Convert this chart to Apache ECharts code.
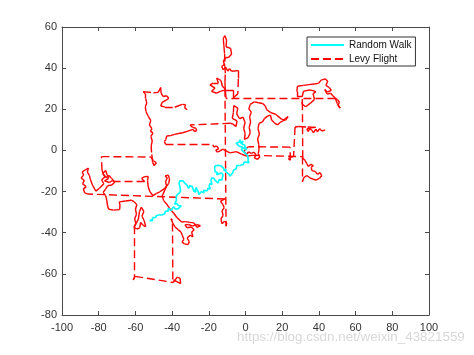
<!DOCTYPE html>
<html>
<head>
<meta charset="utf-8">
<script src="https://cdn.jsdelivr.net/npm/echarts@6/dist/echarts.min.js"></script>
<style>
  html, body { margin: 0; padding: 0; background: #fff; }
  #main { width: 474px; height: 355px; }
</style>
</head>
<body>
<div id="main"></div>
<script>
// axis ranges (ticks every 20)
const xRange = [-100, 100];
const yRange = [-80, 60];
const tickStep = 20;
const seriesNames = ['Random Walk', 'Levy Flight'];

// random walk
const walkPath = [
  [0, 0], [0.6, 1.2], [-0.4, 1.0], [-1.2, 0.8], [-0.2, 1.8], [-0.6, 2.8], [-1.4, 2.2], [-2.0, 3.0],
  [-1.0, 3.6], [-1.4, 4.6], [-2.2, 4.2], [-2.6, 3.4], [-3.2, 4.2], [-2.8, 5.2], [-3.8, 5.0], [-3.8, 3.8],
  [-4.8, 4.6], [-5.2, 3.6], [-4.2, 2.8], [-3.4, 2.0], [-2.6, 1.2], [-2.4, 2.6], [-1.6, 1.6], [-2.2, 0.4],
  [-1.2, -0.2], [-0.4, -1.2], [0.6, -0.8], [0.2, -2.0], [1.2, -2.6], [0.4, -3.4], [1.4, -3.6], [2.2, -4.4],
  [1.4, -5.0], [2.0, -6.0], [0.8, -5.8], [0.0, -6.6], [-0.6, -5.6], [-1.2, -6.8], [-2.0, -6.0], [-2.8, -7.2],
  [-3.6, -6.6], [-3.8, -8.0], [-4.8, -7.4], [-5.0, -8.8], [-6.0, -8.2], [-6.4, -9.6], [-7.2, -9.4], [-7.0, -10.8],
  [-8.0, -11.0], [-8.4, -12.4], [-9.2, -11.4], [-9.8, -12.2], [-10.2, -10.8], [-11.0, -10.2], [-10.6, -9.2], [-11.8, -9.6],
  [-12.0, -8.6], [-13.0, -8.8], [-13.2, -7.6], [-14.2, -8.2], [-14.8, -7.2], [-15.6, -8.0], [-16.6, -7.6], [-16.8, -8.8],
  [-16.0, -9.4], [-16.6, -10.4], [-15.4, -10.6], [-15.8, -11.8], [-14.6, -11.4], [-13.8, -12.2], [-13.0, -11.0], [-12.2, -12.0],
  [-12.6, -13.2], [-11.8, -14.0], [-12.8, -14.4], [-13.6, -15.2], [-14.4, -14.2], [-15.0, -15.8], [-16.0, -15.6], [-16.6, -14.6],
  [-17.2, -13.6], [-18.0, -14.2], [-18.6, -13.4], [-18.8, -14.8], [-17.8, -15.6], [-18.2, -16.6], [-19.4, -16.2], [-19.8, -17.2],
  [-18.8, -17.8], [-19.2, -18.8], [-20.4, -18.4], [-20.8, -19.6], [-21.6, -20.4], [-21.8, -19.0], [-22.8, -19.4], [-22.6, -20.6],
  [-23.6, -21.2], [-24.0, -20.0], [-24.8, -20.8], [-25.4, -21.4], [-25.8, -20.0], [-25.2, -19.2], [-26.4, -19.0], [-26.8, -18.0],
  [-27.4, -19.2], [-27.0, -20.2], [-28.2, -19.8], [-28.6, -18.6], [-29.0, -17.6], [-29.8, -18.4], [-30.4, -17.2], [-31.0, -18.4],
  [-31.8, -18.0], [-32.0, -16.8], [-33.0, -17.0], [-33.2, -15.8], [-34.2, -16.2], [-34.0, -14.8], [-35.0, -14.2], [-35.8, -14.8],
  [-36.2, -15.8], [-35.2, -16.4], [-35.8, -17.4], [-34.8, -17.8], [-35.6, -18.6], [-36.6, -18.0], [-36.4, -19.4], [-35.4, -19.8],
  [-36.2, -20.8], [-37.2, -20.6], [-37.6, -21.8], [-36.8, -22.6], [-37.8, -23.2], [-38.6, -22.4], [-38.8, -23.8], [-37.6, -24.2],
  [-38.2, -25.2], [-39.2, -25.0], [-38.6, -26.2], [-37.4, -25.8], [-36.6, -26.8], [-35.6, -26.0], [-35.0, -27.0], [-35.8, -27.8],
  [-36.8, -28.4], [-37.4, -27.6], [-38.4, -28.4], [-39.2, -27.4], [-40.0, -28.2], [-40.6, -29.2], [-41.4, -28.4], [-42.2, -28.0],
  [-42.0, -29.4], [-42.8, -30.2], [-43.8, -29.6], [-44.0, -30.8], [-45.0, -30.4], [-45.6, -31.4], [-46.4, -30.6], [-47.2, -31.4],
  [-47.8, -30.6], [-48.4, -31.6], [-49.0, -32.6], [-49.6, -31.8], [-50.4, -32.6], [-50.8, -33.6], [-51.8, -33.2], [-52.2, -34.2],
  [-51.2, -34.6], [-50.2, -34.0]
];

// levy flight
const levyPath = [
  [43.4, 10.0], [41.6, 9.4], [40.4, 10.6], [39.2, 9.0], [38.4, 10.4], [37.0, 8.6], [36.2, 9.8], [35.0, 10.6],
  [34.2, 9.2], [33.4, 10.4], [35.6, 11.0], [38.2, 11.2], [33.0, 11.4], [29.0, 11.6], [27.0, 11.4],
  [26.2, -3.0], [24.8, -3.2], [23.4, -4.0], [24.4, -4.8], [24.3, 1.6], [1.6, 1.8],
  [0.2, 0.8], [-0.8, -0.6], [0.5, -1.8], [1.8, -0.7], [3.2, -1.5], [4.6, -0.8], [5.8, -2.2], [4.8, -3.6],
  [6.5, -4.4], [7.8, -3.1], [6.9, -1.6], [7.4, 0.5],
  [7.2, 3.0], [6.6, 5.6], [7.6, 8.0], [6.8, 10.6], [7.4, 13.2], [9.2, 13.8], [10.4, 15.6], [12.2, 16.8],
  [13.6, 17.2], [14.2, 14.8], [15.8, 13.4], [17.4, 12.4], [18.8, 13.6], [20.2, 14.2], [21.6, 15.4], [23.2, 16.4],
  [21.8, 14.6], [19.6, 15.2], [16.4, 17.6], [13.8, 18.4], [11.6, 19.8], [10.8, 21.6], [9.4, 22.8], [7.2, 23.2],
  [4.8, 23.6], [2.6, 22.4], [1.8, 20.2], [3.2, 18.6], [2.2, 16.4], [2.8, 13.8], [2.0, 11.2], [2.6, 8.6],
  [1.4, 6.2], [-0.6, 5.4], [-0.2, 8.2], [-1.0, 10.8], [-0.2, 13.6], [-1.4, 16.2], [-3.2, 15.4], [-4.8, 17.8],
  [-4.2, 20.6], [-6.4, 21.8], [-6.6, 18.4], [-7.2, 15.6], [-4.6, 14.4], [-5.2, 11.6], [-6.8, 12.8], [-8.2, 13.2],
  [-30.2, 12.4],
  [-28.8, 11.2], [-27.0, 10.8], [-26.6, 9.6], [-27.8, 9.2], [-28.6, 10.2], [-31.4, 9.4], [-34.2, 8.6], [-36.4, 8.2],
  [-38.6, 7.8], [-40.8, 7.2], [-43.0, 7.0], [-43.4, 5.2], [-44.2, 4.4], [-43.6, 3.0],
  [-17.8, 2.8],
  [-17.2, 1.6], [-15.8, 2.2], [-14.6, 0.8], [-16.2, 0.2], [-15.4, -0.8], [-13.8, -0.2], [-12.4, 0.6],
  [-8.4, -1.2], [-5.0, -0.6], [-2.2, -1.8], [0.6, -2.8], [3.6, -2.4],
  [31.0, -3.0], [31.0, -15.2],
  [31.8, -13.2], [33.4, -12.2], [35.2, -13.4], [36.8, -14.0], [38.6, -14.4], [40.4, -13.4], [41.6, -12.2], [40.6, -10.8],
  [39.2, -11.6], [38.0, -10.2], [36.2, -9.8], [35.8, -8.2], [37.0, -7.4], [35.6, -6.8], [34.2, -7.8], [33.4, -6.4],
  [32.4, -4.8], [31.2, -3.8],
  [31.0, 25.0],
  [30.8, 22.6], [32.8, 21.2], [35.4, 23.0], [37.6, 24.8], [36.8, 27.6], [38.4, 28.6], [35.2, 29.4], [31.6, 28.8],
  [30.9, 26.1], [28.1, 26.1], [28.0, 28.6], [28.3, 31.2], [31.5, 31.6], [34.6, 32.0], [37.4, 32.3], [39.8, 32.6],
  [41.2, 34.2], [43.4, 34.8], [44.8, 33.6], [43.8, 31.6], [45.6, 30.6], [46.8, 29.2], [44.6, 28.4], [43.2, 29.6],
  [44.4, 27.4], [46.4, 27.8], [47.6, 26.6], [48.8, 25.6], [50.2, 24.6], [51.2, 23.4], [50.4, 21.8], [51.6, 20.6],
  [50.0, 22.8], [49.0, 25.2],
  [-10.6, 25.3],
  [-11.0, 29.4], [-11.2, 33.0], [-11.0, 37.5], [-11.2, 40.8], [-12.1, 43.5], [-10.6, 45.2], [-9.4, 45.1], [-7.6, 46.7],
  [-8.1, 49.6], [-10.6, 50.4], [-10.3, 53.6], [-11.2, 55.8], [-12.1, 54.5], [-11.8, 51.0], [-11.4, 47.0], [-11.2, 42.0],
  [-13.0, 40.8], [-12.1, 39.2], [-10.8, 40.4], [-9.6, 38.6], [-8.7, 39.8], [-7.6, 38.5], [-3.9, 38.8], [-3.9, 34.7],
  [-4.2, 27.5], [-6.6, 25.6], [-6.6, 29.3], [-11.2, 29.3], [-13.8, 28.7], [-15.7, 27.8], [-18.5, 28.7], [-16.6, 30.3],
  [-19.4, 31.9], [-17.6, 32.7], [-14.8, 32.7], [-15.7, 35.2], [-13.4, 34.0], [-12.6, 31.2], [-11.2, 30.0],
  [-10.6, -36.8],
  [-10.2, -35.2], [-11.4, -34.4], [-12.8, -35.6], [-13.4, -33.4], [-12.2, -31.6], [-12.8, -29.4], [-11.6, -27.8], [-12.4, -26.2],
  [-13.6, -24.6], [-11.2, -23.6],
  [-85.8, -21.2],
  [-87.6, -20.6], [-88.4, -18.8], [-86.8, -17.6], [-88.8, -16.2], [-87.8, -14.6], [-89.6, -13.4], [-88.2, -12.0], [-89.0, -10.4],
  [-87.2, -9.4], [-85.6, -8.6], [-86.2, -10.6], [-85.0, -12.2], [-84.6, -14.0], [-83.4, -16.8], [-81.6, -19.8], [-79.6, -18.4],
  [-78.8, -17.6], [-77.2, -16.2], [-78.4, -14.4], [-76.6, -12.8], [-77.8, -11.2], [-76.2, -9.8], [-75.4, -11.8], [-74.6, -13.6],
  [-76.8, -14.8], [-74.2, -15.6], [-72.6, -14.6], [-71.2, -15.4], [-72.8, -16.8], [-75.2, -17.2], [-76.4, -19.0], [-77.6, -20.4],
  [-76.2, -22.0],
  [-75.6, -24.2], [-75.2, -26.8], [-74.6, -28.6], [-71.8, -29.0], [-68.6, -28.8], [-68.4, -26.6], [-68.8, -25.0], [-65.4, -24.6],
  [-62.2, -24.2], [-60.6, -25.0],
  [-59.2, -26.4], [-60.0, -28.6], [-59.4, -31.0], [-60.4, -33.2], [-59.8, -35.6], [-60.8, -37.4], [-59.2, -38.2], [-57.6, -37.6],
  [-57.2, -35.0], [-55.8, -36.4], [-54.4, -37.0], [-55.2, -34.2], [-56.4, -32.0], [-55.4, -29.6], [-56.8, -27.6], [-57.8, -29.8],
  [-58.4, -33.4], [-60.4, -36.8],
  [-60.4, -61.4], [-61.2, -63.0], [-60.2, -61.2], [-39.4, -64.2], [-37.2, -61.6], [-35.6, -62.2], [-35.4, -64.8], [-39.6, -62.8],
  [-39.8, -34.0],
  [-40.6, -33.2], [-39.6, -35.4], [-38.4, -37.2], [-36.6, -38.6], [-35.2, -39.6], [-34.4, -41.4], [-33.6, -43.2], [-34.6, -44.6],
  [-33.2, -45.4], [-31.4, -45.8], [-30.6, -44.4], [-31.8, -42.6], [-30.2, -41.2], [-28.6, -42.0], [-29.4, -39.8], [-28.0, -38.6],
  [-29.6, -37.2], [-31.8, -37.6], [-33.0, -36.2], [-31.0, -36.0], [-28.8, -36.8], [-26.8, -36.0], [-24.6, -36.6], [-26.4, -37.4],
  [-28.2, -35.2], [-30.4, -35.0], [-32.6, -34.6], [-34.8, -34.8], [-37.4, -32.6], [-39.2, -30.4], [-41.4, -28.2], [-43.0, -26.0],
  [-44.6, -24.4], [-45.4, -22.2],
  [-44.0, -19.3], [-43.0, -17.4], [-43.6, -15.2], [-42.6, -13.4], [-43.8, -12.4], [-42.2, -12.0], [-41.4, -13.8], [-41.8, -16.0],
  [-44.2, -18.6], [-46.7, -20.1], [-48.5, -20.9], [-50.3, -22.0], [-52.0, -20.2],
  [-53.0, -17.8], [-53.4, -14.6], [-53.0, -12.6], [-55.2, -12.8], [-56.6, -13.6], [-55.0, -15.2],
  [-71.6, -15.0],
  [-73.0, -13.6], [-74.4, -12.2], [-76.0, -13.2], [-77.4, -11.6], [-78.2, -9.6],
  [-78.5, -3.0], [-51.6, -3.2],
  [-50.2, -5.0], [-48.6, -6.0], [-49.8, -7.4], [-50.6, -5.8],
  [-51.2, -1.0], [-51.4, 2.2], [-50.8, 4.6], [-51.6, 6.8], [-50.4, 8.4], [-51.8, 9.4], [-51.0, 10.6], [-52.4, 12.4],
  [-51.6, 14.6], [-53.0, 16.6], [-54.2, 18.8], [-54.6, 21.2], [-53.8, 23.0], [-54.4, 25.2], [-54.6, 27.6], [-55.8, 28.6],
  [-50.2, 28.0], [-47.6, 28.2], [-46.2, 30.6], [-46.0, 27.8], [-44.8, 26.2], [-43.0, 26.6], [-41.8, 25.4], [-43.2, 24.4],
  [-45.4, 23.4], [-46.2, 21.6], [-44.0, 21.2], [-38.6, 21.0], [-34.4, 22.4], [-32.6, 22.2], [-33.2, 20.8], [-31.8, 19.8]
];

// each step drawn on its own, so the dash pattern restarts at every vertex
const levySegments = levyPath.slice(1).map((p, i) => ({ coords: [levyPath[i], p] }));

const axisColor = '#4a4a4a';
const font = 'Liberation Sans, Arial, sans-serif';
const levyDash = [8, 4];

function makeAxis(position, range, showLabel) {
  return {
    type: 'value',
    position: position,
    min: range[0],
    max: range[1],
    interval: tickStep,
    axisLine: { show: true, onZero: false, lineStyle: { color: axisColor, width: 1 } },
    axisTick: { show: true, inside: true, length: 4, lineStyle: { color: axisColor } },
    axisLabel: {
      show: showLabel,
      color: '#333',
      fontSize: 11,
      fontFamily: font,
      margin: position === 'bottom' ? 7 : 5
    },
    splitLine: { show: false }
  };
}

const myChart = echarts.init(document.getElementById('main'));
const option = {
  animation: false,
  grid: { left: 62, right: 45, top: 27, bottom: 40, outerBoundsMode: 'none' },
  xAxis: [makeAxis('bottom', xRange, true), makeAxis('top', xRange, false)],
  yAxis: [makeAxis('left', yRange, true), makeAxis('right', yRange, false)],
  legend: {
    orient: 'vertical',
    left: 307,
    top: 37,
    data: seriesNames,
    itemWidth: 33,
    itemHeight: 10,
    itemGap: 4,
    padding: [3, 4, 2, 3],
    borderColor: '#333',
    borderWidth: 1,
    backgroundColor: '#fff',
    // hide the marker circle, keep only the line sample
    itemStyle: { opacity: 0 },
    textStyle: { fontSize: 10, color: '#111', fontFamily: font }
  },
  series: [
    {
      name: seriesNames[0],
      type: 'line',
      data: walkPath,
      symbol: 'none',
      lineStyle: { color: '#00ffff', width: 1.6 },
      itemStyle: { color: '#00ffff' }
    },
    {
      // legend entry only
      name: seriesNames[1],
      type: 'line',
      data: [],
      symbol: 'none',
      lineStyle: { color: '#ff0000', width: 1.4, type: levyDash },
      itemStyle: { color: '#ff0000' }
    },
    {
      name: 'levySteps',
      type: 'lines',
      coordinateSystem: 'cartesian2d',
      data: levySegments,
      silent: true,
      lineStyle: { color: '#ff0000', width: 1.4, type: levyDash, opacity: 1, curveness: 0 }
    }
  ],
  graphic: [
    {
      type: 'text',
      left: 237,
      top: 331,
      style: {
        text: 'https://blog.csdn.net/weixin_43821559',
        fill: '#d8d8d8',
        font: '13.4px ' + font
      }
    }
  ]
};
myChart.setOption(option);
</script>
</body>
</html>
